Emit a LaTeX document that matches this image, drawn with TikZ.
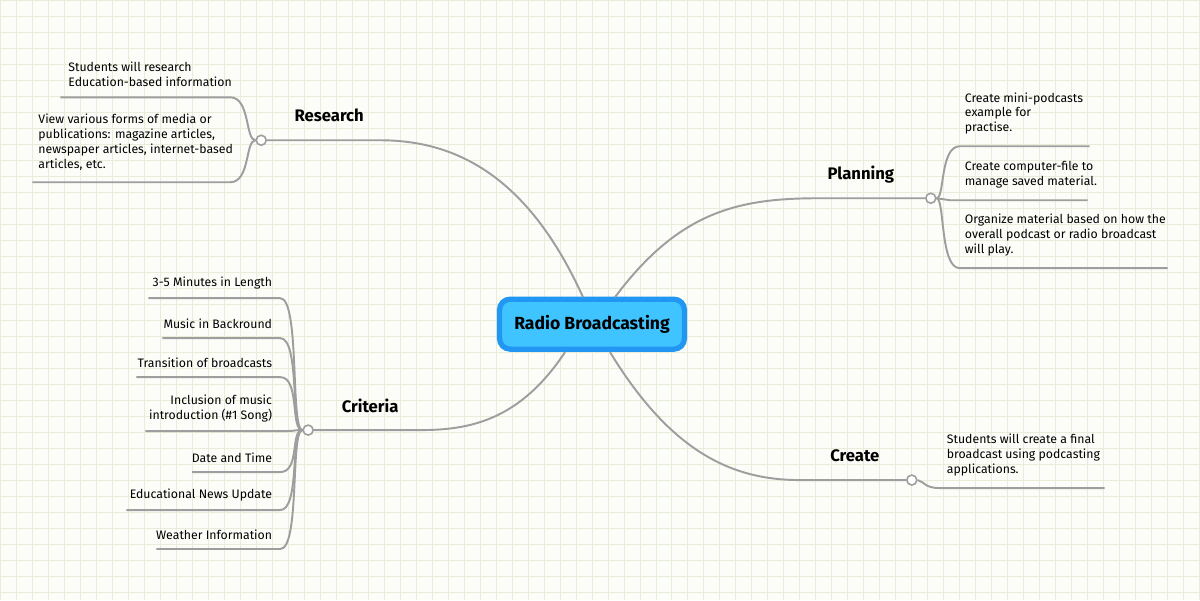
\documentclass[tikz,border=0pt]{standalone}
\usepackage{fontspec}
\setmainfont{Fira Sans}
\usetikzlibrary{positioning}
\definecolor{gridc}{HTML}{E6EDD8}
\definecolor{bgc}{HTML}{FCFDF8}
\definecolor{linec}{HTML}{9E9E9E}
\definecolor{rootfill}{HTML}{40C4FF}
\definecolor{rootdraw}{HTML}{2196F3}
\begin{document}
\begin{tikzpicture}[x=0.02cm,y=-0.02cm,
root/.style={rounded corners=6pt, fill=rootfill, draw=rootdraw, line width=3pt, minimum width=3.7cm, minimum height=1.0cm, font=\fontsize{10}{12}\selectfont\bfseries},
topic/.style={font=\fontsize{9.5}{11}\selectfont\bfseries},
leaf/.style={font=\fontsize{7}{8.4}\selectfont, align=left, anchor=south west, inner sep=1pt},
rleaf/.style={font=\fontsize{7}{8.4}\selectfont, align=right, anchor=south east, inner sep=1pt},
branch/.style={draw=linec, line width=1.1pt},
knob/.style={circle, draw=linec, fill=white, line width=0.9pt, minimum size=0.2cm, inner sep=0pt},
]
\fill[bgc] (0,0) rectangle (1200,600);
\draw[gridc, line width=0.4pt, step=0.32cm] (0,0) grid (1200,600);
\useasboundingbox (0,0) rectangle (1200,600);

\node[root] (radio) at (592,324) {Radio Broadcasting};

%Topics
\node[topic] (research) at (329,115) {Research};
\node[topic] (planning) at (861,174) {Planning};
\node[topic] (criteria) at (370,406) {Criteria};
\node[topic] (create) at (855,456) {Create};
\node[knob] (kres) at (261,140) {};
\node[knob] (kplan) at (931,198) {};
\node[knob] (kcrit) at (308,430) {};
\node[knob] (kcre) at (912,480) {};

%Main branches
\draw[branch] (583,297) .. controls (530,180) and (460,140) .. (380,140) -- (kres);
\draw[branch] (615,297) .. controls (680,210) and (740,198) .. (820,198) -- (kplan);
\draw[branch] (565,352) .. controls (520,420) and (470,430) .. (420,430) -- (kcrit);
\draw[branch] (610,352) .. controls (670,450) and (730,480) .. (800,480) -- (kcre);

%Research leaves
\coordinate (r1) at (60,97);
\coordinate (r2) at (32,182);
\draw[branch] (kres.west) .. controls (245,140) and (250,97) .. (230,97) -- (r1);
\draw[branch] (kres.west) .. controls (245,140) and (250,182) .. (230,182) -- (r2);
\node[leaf] (rt1) at (66,88) {Students will research\\Education-based information};
\node[leaf] (rt2) at (36,172) {View various forms of media or\\publications: magazine articles,\\newspaper articles, internet-based\\articles, etc.};

%Planning leaves
\coordinate (p1) at (1090,146);
\coordinate (p2) at (1088,200);
\coordinate (p3) at (1168,268);
\draw[branch] (kplan.east) .. controls (945,198) and (940,146) .. (960,146) -- (p1);
\draw[branch] (kplan.east) -- (950,200) -- (p2);
\draw[branch] (kplan.east) .. controls (945,198) and (940,268) .. (960,268) -- (p3);
\node[leaf] (pt1) at (963,136) {Create mini-podcasts\\example for\\practise.};
\node[leaf] (pt2) at (963,190) {Create computer-file to\\manage saved material.};
\node[leaf] (pt3) at (963,258) {Organize material based on how the\\overall podcast or radio broadcast\\will play.};

%Create leaf
\coordinate (c1) at (1105,488);
\draw[branch] (kcre.east) .. controls (925,482) and (925,488) .. (940,488) -- (c1);
\node[leaf] (ct1) at (945,478) {Students will create a final\\broadcast using podcasting\\applications.};

%Criteria leaves
\foreach \yy/\xl/\txt in {298/148/{3-5 Minutes in Length},338/162/{Music in Backround},377/136/{Transition of broadcasts},431/145/{Inclusion of music\\introduction (\#1 Song)},472/192/{Date and Time},510/126/{Educational News Update},549/156/{Weather Information}}{
  \coordinate (q\yy) at (\xl,\yy);
  \draw[branch] (kcrit.west) .. controls (290,430) and (300,\yy) .. (280,\yy) -- (q\yy);
  \node[rleaf] at (274,\yy-7) {\txt};
}
\end{tikzpicture}
\end{document}
